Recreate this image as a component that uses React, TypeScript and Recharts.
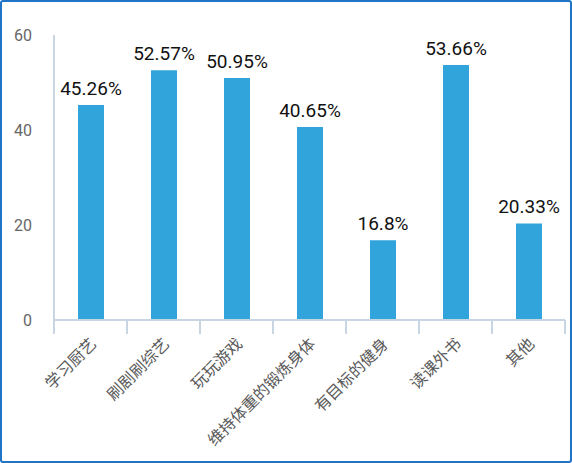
import { BarChart, Bar, XAxis, YAxis, LabelList } from "recharts";

const categories = ["学习厨艺", "刷剧刷综艺", "玩玩游戏", "维持体重的锻炼身体", "有目标的健身", "读课外书", "其他"];
const values = [45.26, 52.57, 50.95, 40.65, 16.8, 53.66, 20.33];
const yTicks = [0, 20, 40, 60];

const data = categories.map((name, i) => ({ name, value: values[i] }));

const FONT = "Roboto, 'Noto Sans CJK SC', sans-serif";
const AXIS_COLOR = "#c8d6e4";
const TICK_SIZE = 14;
const TICK_MARGIN = 2;

// ticks sit on the category boundaries, labels on the centres
function XTick(props: any) {
    const { x, y, payload, index, visibleTicksCount } = props;
    const half = payload.offset || 0;
    const top = y - TICK_SIZE - TICK_MARGIN;
    const bottom = y - TICK_MARGIN;
    return (
        <g>
            <line x1={x - half} x2={x - half} y1={top} y2={bottom} stroke={AXIS_COLOR} strokeWidth={2} />
            {index === visibleTicksCount - 1 && (
                <line x1={x + half} x2={x + half} y1={top} y2={bottom} stroke={AXIS_COLOR} strokeWidth={2} />
            )}
            <g transform={`translate(${x + 3},${y + 5})`}>
                <text
                    transform="rotate(-45)"
                    textAnchor="end"
                    dominantBaseline="central"
                    fill="#5a5a5a"
                    fontSize={16}
                    fontFamily={FONT}
                >
                    {payload.value}
                </text>
            </g>
        </g>
    );
}

export default function App() {
    return (
        <div style={{ position: "absolute", left: 0, top: 0, width: 572, height: 463, background: "#fff" }}>
            <BarChart
                width={572}
                height={463}
                data={data}
                margin={{ top: 35, right: 7, left: 0, bottom: 0 }}
                style={{ fontFamily: FONT }}
            >
                <XAxis
                    dataKey="name"
                    interval={0}
                    height={143}
                    tickSize={TICK_SIZE}
                    tickMargin={TICK_MARGIN}
                    axisLine={{ stroke: AXIS_COLOR, strokeWidth: 2 }}
                    tickLine={false}
                    tick={<XTick />}
                />
                <YAxis
                    width={54}
                    domain={[0, 60]}
                    ticks={yTicks}
                    tickLine={false}
                    tickSize={0}
                    tickMargin={22}
                    axisLine={{ stroke: AXIS_COLOR, strokeWidth: 2 }}
                    tick={{ fill: "#666", fontSize: 16, fontFamily: FONT }}
                />
                <Bar dataKey="value" fill="#32a4dc" barSize={26} isAnimationActive={false}>
                    <LabelList
                        dataKey="value"
                        position="top"
                        offset={10}
                        formatter={(v: any) => `${v}%`}
                        fill="#111"
                        fontSize={19}
                        fontFamily={FONT}
                    />
                </Bar>
            </BarChart>
            <div
                style={{
                    position: "absolute",
                    left: 0,
                    top: 0,
                    width: 572,
                    height: 463,
                    boxSizing: "border-box",
                    border: "2px solid #1f74c7",
                    borderRadius: 3,
                    pointerEvents: "none",
                }}
            />
        </div>
    );
}
